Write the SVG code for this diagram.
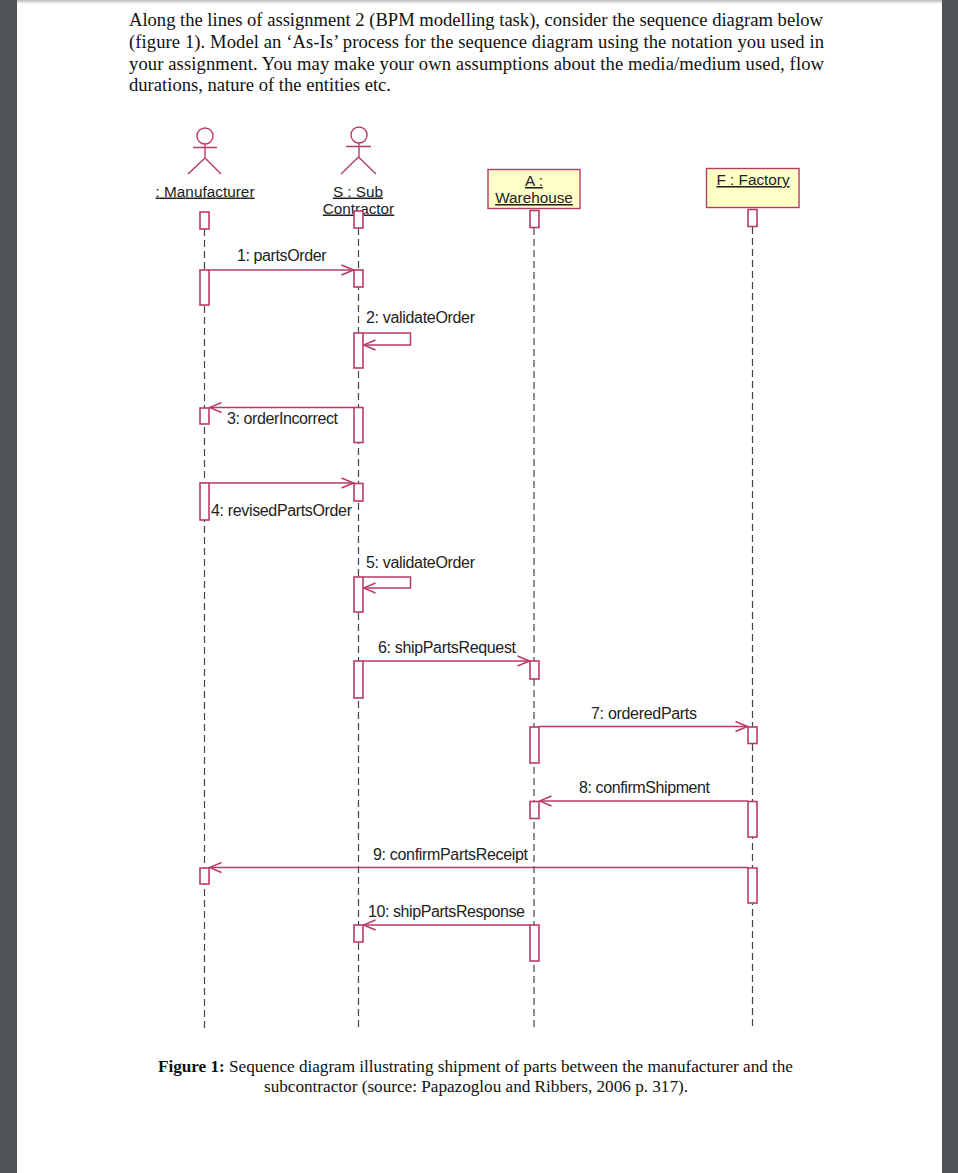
<svg xmlns="http://www.w3.org/2000/svg" width="958" height="1173" viewBox="0 0 958 1173">
<defs>
<linearGradient id="topShade" x1="0" y1="0" x2="0" y2="1"><stop offset="0" stop-color="#b9bbbc"/><stop offset="1" stop-color="#ffffff"/></linearGradient>
<marker id="open" viewBox="0 0 14 12" refX="13" refY="6" markerWidth="14" markerHeight="12" markerUnits="userSpaceOnUse" orient="auto"><path d="M1 1 L13 6 L1 11" fill="none" stroke="#b83b66" stroke-width="1.5"/></marker>
</defs>
<style>
.life{stroke:#444;stroke-width:1.2;stroke-dasharray:7 4;fill:none}
.act{fill:#fff;stroke:#b83b66;stroke-width:1.6}
.box{fill:#ffffc8;stroke:#b83b66;stroke-width:1.4}
.msg{fill:none;stroke:#b83b66;stroke-width:1.5;marker-end:url(#open)}
.fig{fill:none;stroke:#b83b66;stroke-width:1.4}
.lab{font-family:"Liberation Sans",Arial,sans-serif;font-size:16px;fill:#222}
.name{font-family:"Liberation Sans",Arial,sans-serif;font-size:15.3px;fill:#222;text-decoration:underline;text-anchor:middle}
.body{font-family:"Liberation Serif","Times New Roman",serif;font-size:18.6px;fill:#111}
.cap{font-family:"Liberation Serif","Times New Roman",serif;font-size:17.2px;fill:#111}
</style>
<rect width="958" height="1173" fill="#4f5355"/>
<rect x="17" y="0" width="925" height="1173" fill="#fff"/>
<rect x="17" y="0" width="925" height="4" fill="url(#topShade)"/>
<g id="page-text">
<text class="body" x="129" y="26" textLength="694">Along the lines of assignment 2 (BPM modelling task), consider the sequence diagram below</text>
<text class="body" x="129" y="48" textLength="695">(figure 1). Model an ‘As-Is’ process for the sequence diagram using the notation you used in</text>
<text class="body" x="129" y="70" textLength="695">your assignment. You may make your own assumptions about the media/medium used, flow</text>
<text class="body" x="129" y="91" textLength="262">durations, nature of the entities etc.</text>
<text class="cap" x="158" y="1072" textLength="635"><tspan font-weight="700">Figure 1:</tspan> Sequence diagram illustrating shipment of parts between the manufacturer and the</text>
<text class="cap" x="264" y="1092" textLength="424">subcontractor (source: Papazoglou and Ribbers, 2006 p. 317).</text>
</g>
<g id="lifelines">
<line class="life" x1="204.500" y1="229" x2="204.500" y2="1028"/>
<line class="life" x1="358.500" y1="228" x2="358.500" y2="1028"/>
<line class="life" x1="534" y1="228" x2="534" y2="1028"/>
<line class="life" x1="752.500" y1="227" x2="752.500" y2="1028"/>
</g>
<g id="manufacturer">
<circle class="fig" cx="205" cy="136" r="8"/>
<path class="fig" d="M205 144V158M193 147.500H217M188 174L205 158L221 174"/>
<text class="name" x="205" y="196.500" textLength="99">: Manufacturer</text>
<rect class="act" x="200" y="212" width="9" height="17"/>
<rect class="act" x="200" y="270" width="9" height="35"/>
<rect class="act" x="200" y="408" width="9" height="16"/>
<rect class="act" x="200" y="483" width="9" height="37"/>
<rect class="act" x="200" y="868" width="9" height="16"/>
</g>
<g id="subcontractor">
<circle class="fig" cx="359" cy="135" r="8"/>
<path class="fig" d="M359 143V157M346 146.500H371M341 174L358.500 157L376 174"/>
<text class="name" x="358" y="196.500">S : Sub </text>
<text class="name" x="358.500" y="213.500">Contractor</text>
<rect class="act" x="354" y="211" width="9" height="17"/>
<rect class="act" x="354" y="270" width="9" height="17"/>
<rect class="act" x="354" y="333" width="9" height="35"/>
<rect class="act" x="354" y="407.500" width="9" height="35"/>
<rect class="act" x="354" y="483.500" width="9" height="17.500"/>
<rect class="act" x="354" y="577" width="9" height="35"/>
<rect class="act" x="354" y="661" width="9" height="37"/>
<rect class="act" x="354" y="925" width="9" height="17"/>
</g>
<g id="warehouse">
<rect class="box" x="488" y="169.500" width="92" height="39"/>
<text class="name" x="534" y="186">A : </text>
<text class="name" x="534" y="203">Warehouse</text>
<rect class="act" x="530" y="210.500" width="9" height="17"/>
<rect class="act" x="530" y="661" width="9" height="18"/>
<rect class="act" x="530" y="727" width="9" height="36"/>
<rect class="act" x="530" y="801.500" width="9" height="17"/>
<rect class="act" x="530" y="925" width="9" height="36"/>
</g>
<g id="factory">
<rect class="box" x="706.500" y="168.500" width="92.500" height="39"/>
<text class="name" x="753" y="185">F : Factory</text>
<rect class="act" x="748" y="209.500" width="9" height="17"/>
<rect class="act" x="748" y="727" width="9" height="16.500"/>
<rect class="act" x="748" y="801.500" width="9" height="35.500"/>
<rect class="act" x="748" y="868" width="9" height="35"/>
</g>
<g id="connectors">
<path class="msg" d="M209 270H353.500"/>
<path class="msg" d="M363 333H410.500V345H363.500"/>
<path class="msg" d="M354 407.500H209.500"/>
<path class="msg" d="M209 483H353.500"/>
<path class="msg" d="M363 577H410.500V588H363.500"/>
<path class="msg" d="M363 661H529.500"/>
<path class="msg" d="M539 726.500H747.500"/>
<path class="msg" d="M748 801H539.500"/>
<path class="msg" d="M748 867.500H209.500"/>
<path class="msg" d="M530 925H363.500"/>
</g>
<g id="labels">
<text class="lab" x="237" y="261" textLength="89.500">1: partsOrder</text>
<text class="lab" x="366" y="323" textLength="109">2: validateOrder</text>
<text class="lab" x="227" y="424" textLength="111">3: orderIncorrect</text>
<text class="lab" x="211" y="516" textLength="141">4: revisedPartsOrder</text>
<text class="lab" x="366" y="568" textLength="109">5: validateOrder</text>
<text class="lab" x="378" y="652.500" textLength="138">6: shipPartsRequest</text>
<text class="lab" x="591" y="718.500" textLength="106">7: orderedParts</text>
<text class="lab" x="579" y="792.500" textLength="131">8: confirmShipment</text>
<text class="lab" x="373" y="860" textLength="155">9: confirmPartsReceipt</text>
<text class="lab" x="368" y="916.500" textLength="157">10: shipPartsResponse</text>
</g>
</svg>
